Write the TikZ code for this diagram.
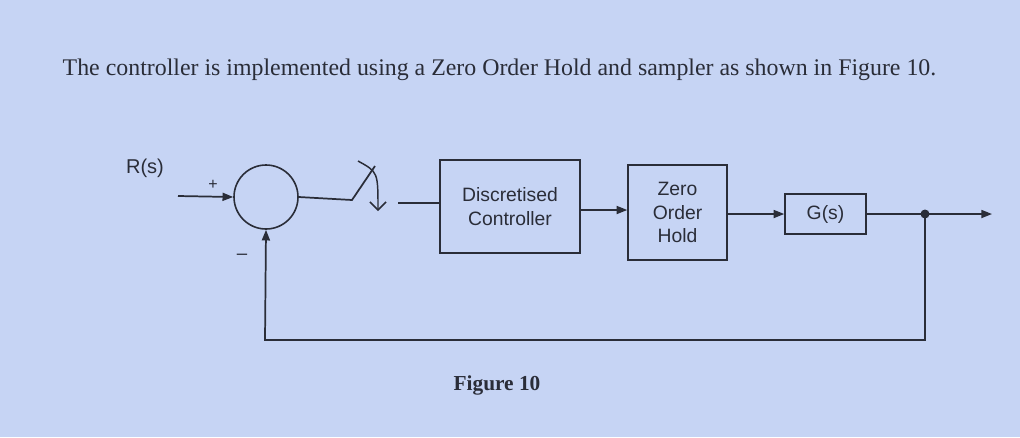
\documentclass[tikz,border=0pt]{standalone}
\usepackage{fontspec}
\setmainfont{Liberation Serif}
\newfontfamily\arialf{Liberation Sans}
\usetikzlibrary{arrows.meta}
\definecolor{bg}{HTML}{C6D4F4}
\definecolor{ink}{HTML}{2A2D38}
\begin{document}
\begin{tikzpicture}[x=0.75pt,y=-0.75pt,
  blk/.style={draw=ink,line width=1.1pt,inner sep=0pt,font=\arialf\fontsize{14.5}{17.5}\selectfont,text=ink,align=center},
  ln/.style={draw=ink,line width=1.3pt},
  arr/.style={ln,-{Triangle[length=8pt,width=6pt]}}]
\fill[bg] (0,0) rectangle (1020,437);
\useasboundingbox (0,0) rectangle (1020,437);
\node[font=\fontsize{17.9}{21}\selectfont,text=ink,anchor=west] (title) at (58,70) {The controller is implemented using a Zero Order Hold and sampler as shown in Figure 10.};
\node[font=\arialf\fontsize{15}{18}\selectfont,text=ink] (rs) at (145,168) {R(s)};
\coordinate (in) at (178,196);
\node[draw=ink,line width=1.2pt,circle,minimum size=64*0.75pt,inner sep=0pt] (sum) at (266,197) {};
\node[font=\arialf\fontsize{12}{14}\selectfont,text=ink] (plus) at (213,185) {+};
\node[font=\arialf\fontsize{14}{16}\selectfont,text=ink] (minus) at (242,257) {–};
\draw[arr] (in) -- (sum.west);
\coordinate (s1) at (352,200);
\coordinate (s2) at (375,166);
\coordinate (s3) at (398,203);
\draw[ln] (sum.east) -- (s1) -- (s2);
\draw[ink,line width=1.1pt,-{Straight Barb[length=6pt]}] (358,161) .. controls (378,172) .. (378,211);
\node[blk,minimum width=140*0.75pt,minimum height=93*0.75pt] (dc) at (510,206.5) {Discretised\\Controller};
\draw[ln] (s3) -- (dc.west|-s3);
\node[blk,minimum width=99*0.75pt,minimum height=95*0.75pt] (zoh) at (677.5,212.5) {Zero\\Order\\Hold};
\draw[arr] (dc.east|-0,210) -- (zoh.west|-0,210);
\node[blk,minimum width=81*0.75pt,minimum height=40*0.75pt] (g) at (825.5,214) {G(s)};
\draw[arr] (zoh.east|-g) -- (g.west);
\coordinate (out) at (992,214);
\coordinate (br) at (925,214);
\draw[arr] (g.east) -- (out);
\fill[ink] (br) circle (4.5pt*0.75);
\coordinate (c1) at (925,340);
\coordinate (c2) at (265,340);
\draw[arr] (br) -- (c1) -- (c2) -- (sum.south);
\node[font=\bfseries\fontsize{16}{19}\selectfont,text=ink] (fig) at (497,385) {Figure 10};
\end{tikzpicture}
\end{document}
